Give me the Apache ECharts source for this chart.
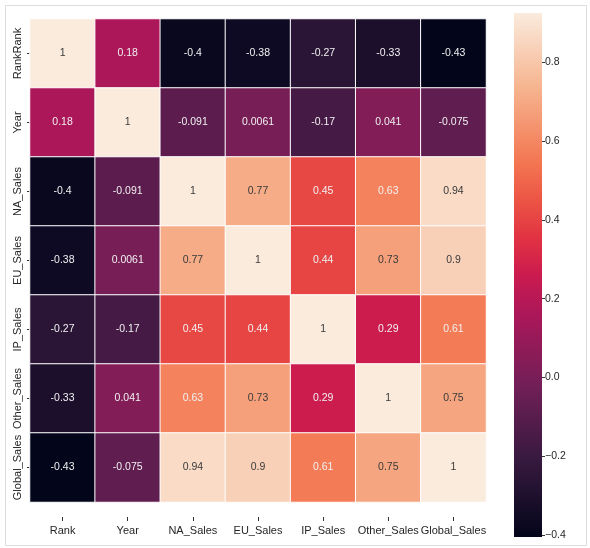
<!DOCTYPE html>
<html>
<head>
<meta charset="utf-8">
<script src="https://cdn.jsdelivr.net/npm/echarts@6/dist/echarts.min.js"></script>
<style>
  html, body { margin: 0; padding: 0; background: #fff; }
  #chart { width: 590px; height: 548px; }
</style>
</head>
<body>
<div id="chart"></div>
<script>
// column / row names as printed on the figure
const colNames = ['Rank', 'Year', 'NA_Sales', 'EU_Sales', 'IP_Sales', 'Other_Sales', 'Global_Sales']
const rowNames = ['RankRank', 'Year', 'NA_Sales', 'EU_Sales', 'IP_Sales', 'Other_Sales', 'Global_Sales']

// correlation matrix, one array per row
const rankRow = [1, 0.18, -0.4, -0.38, -0.27, -0.33, -0.43]
const yearRow = [0.18, 1, -0.091, 0.0061, -0.17, 0.041, -0.075]
const naRow = [-0.4, -0.091, 1, 0.77, 0.45, 0.63, 0.94]
const euRow = [-0.38, 0.0061, 0.77, 1, 0.44, 0.73, 0.9]
const ipRow = [-0.27, -0.17, 0.45, 0.44, 1, 0.29, 0.61]
const otherRow = [-0.33, 0.041, 0.63, 0.73, 0.29, 1, 0.75]
const globalRow = [-0.43, -0.075, 0.94, 0.9, 0.61, 0.75, 1]

// colour scale limits and colorbar axis
const colorMin = -0.43
const colorMax = 1
const colorbarExtent = [-0.405, 0.925]
const colorbarTicks = [-0.4, -0.2, 0, 0.2, 0.4, 0.6, 0.8]

// seaborn "rocket", evenly spaced from low to high
const rocket = ['#03051a', '#1c0f2c', '#35193e', '#521c4a', '#701f57', '#8e1b58', '#ad1759',
  '#cb1b4f', '#e13342', '#ec5545', '#f37651', '#f49570', '#f6b48f', '#f8cfb6', '#faebdd']

const rows = [rankRow, yearRow, naRow, euRow, ipRow, otherRow, globalRow]
const font = "'Liberation Sans', Arial, sans-serif"

const cells = []
rows.forEach((row, yi) => {
  row.forEach((v, xi) => {
    cells.push({
      value: [xi, yi, v],
      label: { color: v > 0.68 ? '#3a3a3a' : '#f0f0f0' }
    })
  })
})

const chart = echarts.init(document.getElementById('chart'))

chart.setOption({
  backgroundColor: '#fff',
  animation: false,
  textStyle: { fontFamily: font },
  graphic: [{
    type: 'rect',
    left: 3,
    top: 3,
    shape: { width: 581, height: 540 },
    style: { fill: 'none', stroke: '#dcdcdc', lineWidth: 1 },
    silent: true
  }],
  grid: [
    { left: 30, top: 19, width: 456, height: 483 },
    { left: 514, top: 13, width: 28, height: 524 }
  ],
  xAxis: [{
    type: 'category',
    gridIndex: 0,
    data: colNames,
    position: 'bottom',
    offset: 15,
    axisLine: { show: false },
    axisTick: { show: true, alignWithLabel: true, length: 4, lineStyle: { color: '#333' } },
    axisLabel: { color: '#262626', fontSize: 11, margin: 8, interval: 0 },
    splitLine: { show: false }
  }, {
    type: 'category',
    gridIndex: 1,
    data: ['cb'],
    show: false
  }],
  yAxis: [{
    type: 'category',
    gridIndex: 0,
    data: rowNames,
    inverse: true,
    axisLine: { show: false },
    axisTick: { show: true, alignWithLabel: true, length: 3, lineStyle: { color: '#333' } },
    axisLabel: { color: '#262626', fontSize: 11, rotate: 90, margin: 7, interval: 0 },
    splitLine: { show: false }
  }, {
    type: 'value',
    gridIndex: 1,
    position: 'right',
    min: colorbarExtent[0],
    max: colorbarExtent[1],
    axisLine: { show: false },
    axisTick: { show: true, length: 3, customValues: colorbarTicks, lineStyle: { color: '#333' } },
    axisLabel: {
      customValues: colorbarTicks,
      color: '#262626',
      fontSize: 10.5,
      margin: 3,
      formatter: v => v.toFixed(1).replace('-', '\u2212')
    },
    splitLine: { show: false }
  }],
  visualMap: {
    show: false,
    type: 'continuous',
    seriesIndex: 0,
    dimension: 2,
    min: colorMin,
    max: colorMax,
    inRange: { color: rocket }
  },
  series: [{
    type: 'heatmap',
    xAxisIndex: 0,
    yAxisIndex: 0,
    data: cells,
    itemStyle: { borderColor: '#fff', borderWidth: 1 },
    label: {
      show: true,
      fontSize: 10.5,
      fontFamily: font,
      formatter: p => String(p.value[2])
    },
    emphasis: { disabled: true }
  }, {
    type: 'custom',
    xAxisIndex: 1,
    yAxisIndex: 1,
    silent: true,
    data: [[0, colorbarExtent[0], colorbarExtent[1]]],
    renderItem: (params, api) => {
      const low = api.coord([api.value(0), api.value(1)])
      const high = api.coord([api.value(0), api.value(2)])
      const w = api.size([1, 0])[0]
      const stops = rocket.map((c, i) => ({ offset: 1 - i / (rocket.length - 1), color: c }))
        .reverse()
      return {
        type: 'rect',
        shape: { x: low[0] - w / 2, y: high[1], width: w, height: low[1] - high[1] },
        style: { fill: new echarts.graphic.LinearGradient(0, 0, 0, 1, stops) }
      }
    }
  }]
})
</script>
</body>
</html>
